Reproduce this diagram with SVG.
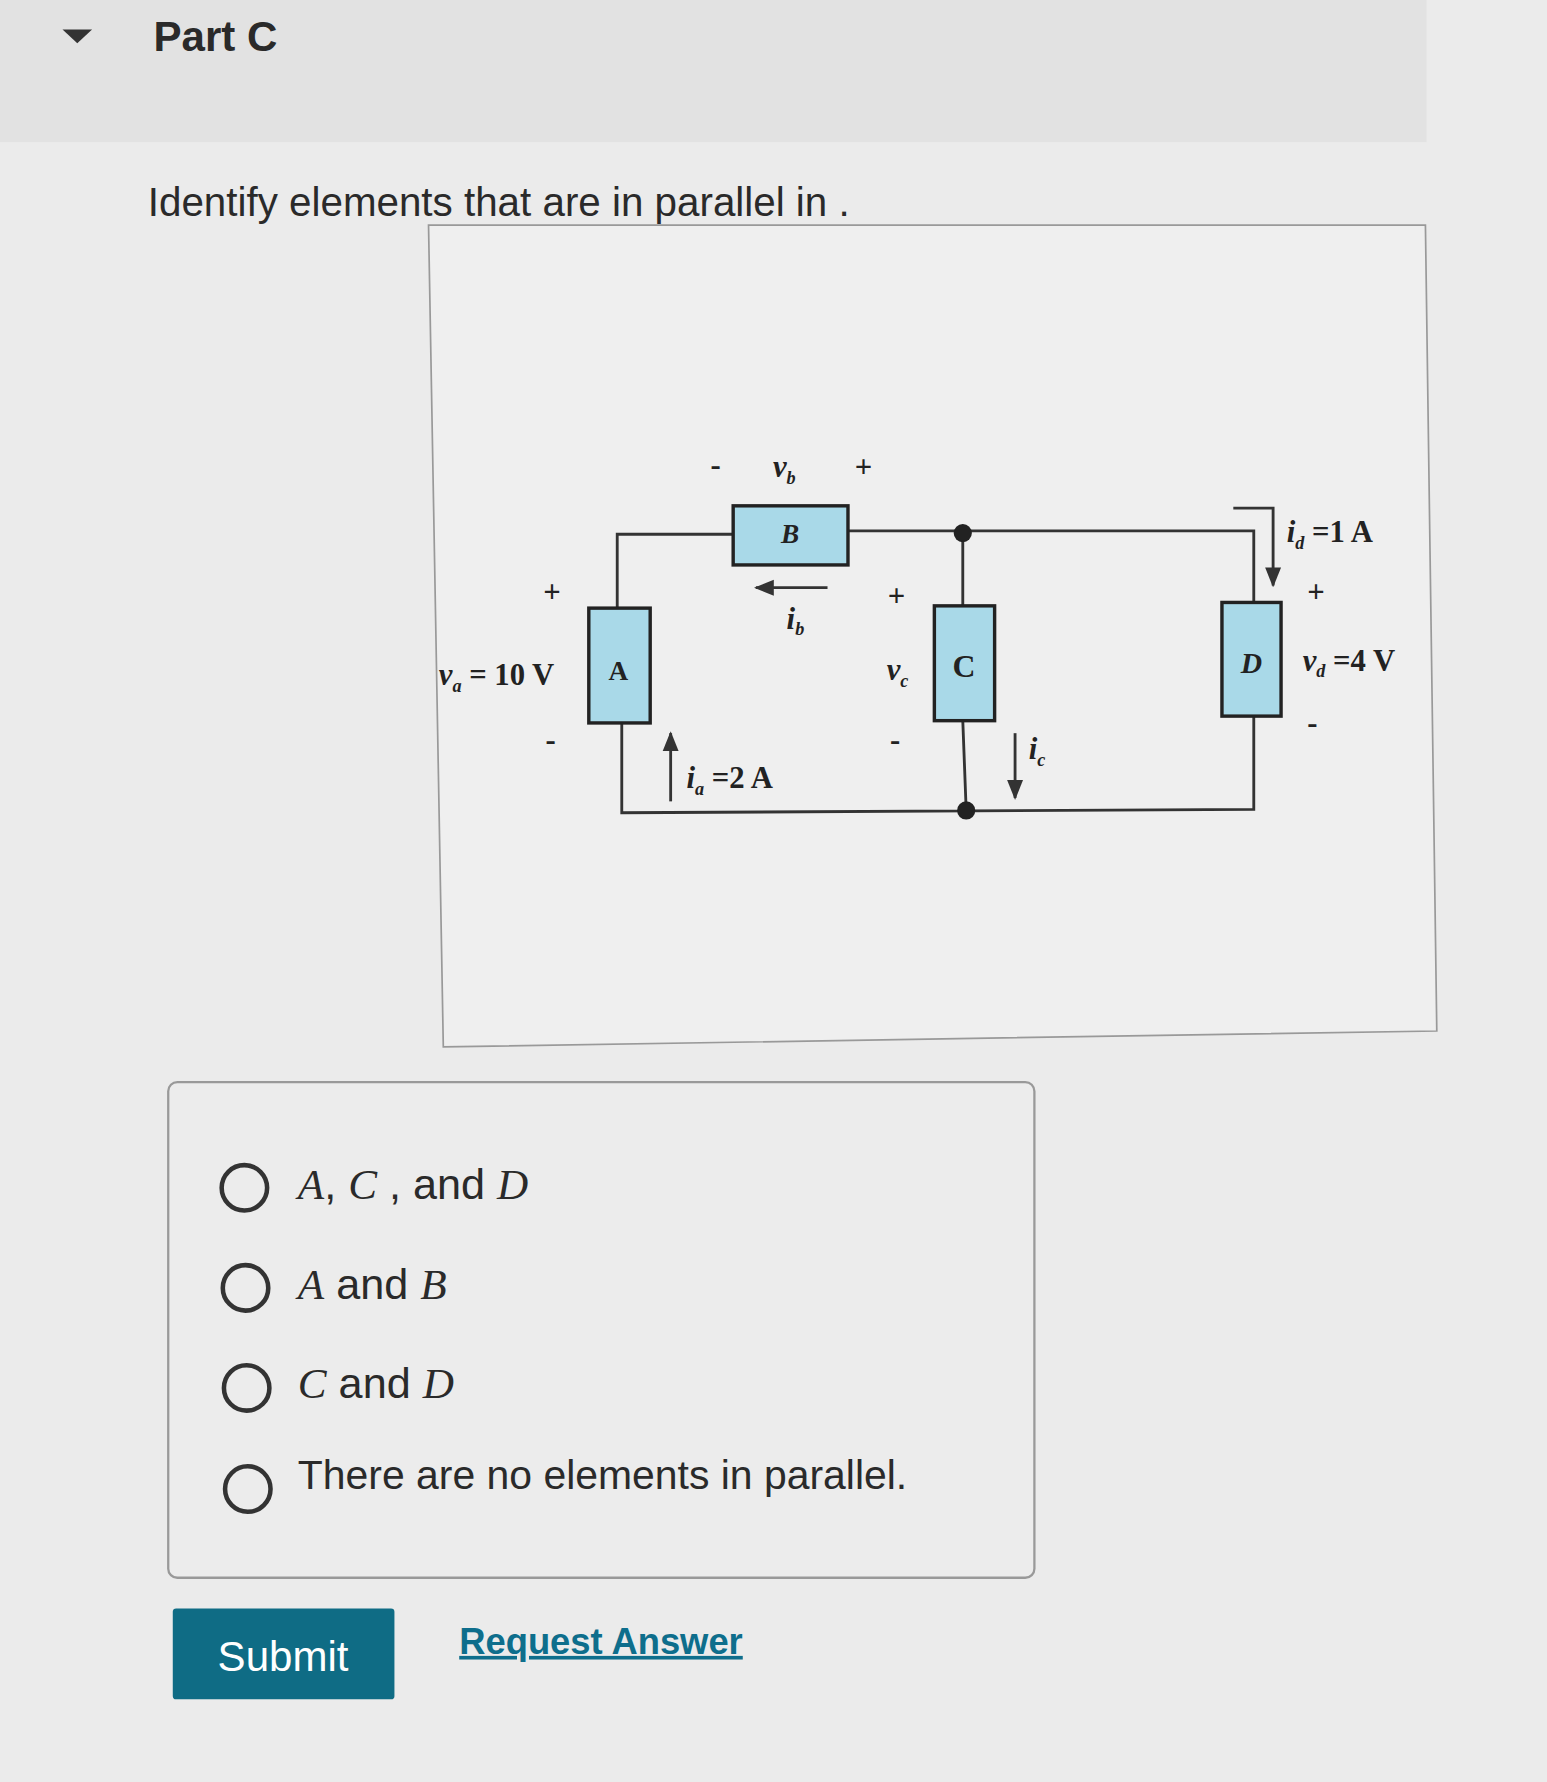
<svg xmlns="http://www.w3.org/2000/svg" width="1547" height="1782" viewBox="0 0 1547 1782">
<defs>
<style>
.s{font-family:"Liberation Sans",Arial,sans-serif;fill:#2a2a2a}
.m{font-family:"Liberation Serif","Times New Roman",serif;fill:#222;font-weight:bold}
.w{stroke:#333;stroke-width:2.5;fill:none}
.el{fill:#a9d9e8;stroke:#222;stroke-width:3}
.r{fill:none;stroke:#333;stroke-width:4}
</style>
<marker id="ah" viewBox="0 0 10 10" refX="9" refY="5" markerWidth="7" markerHeight="7" orient="auto"><path d="M0,1 L10,5 L0,9 Z" fill="#333"/></marker>
</defs>
<rect width="1547" height="1782" fill="#ebebeb"/>
<g transform="scale(1.1367)">
<rect x="0" y="0" width="1255" height="125" fill="#e2e2e2"/>
<path d="M55,26 L81,26 L68,38 Z" fill="#333"/>
<text x="135" y="45" class="s" font-size="37" font-weight="bold" fill="#333">Part C</text>
<text x="130" y="190" class="s" font-size="35.5">Identify elements that are in parallel in .</text>
<g id="frame"><path d="M377,198 L1254,198 L1264,907 L390,921 Z" fill="#efefef" stroke="#999" stroke-width="1.5"/></g>
<g id="connectors">
<path class="w" d="M543,535 L543,470 L645,470 M746,467 L1103,467 L1103,530 M1103,630 L1103,712 L547,715 L547,636 M847,467 L847,533 M847,634 L850,713"/>
<path class="w" d="M728,517 L665,517" marker-end="url(#ah)"/>
<path class="w" d="M590,705 L590,645" marker-end="url(#ah)"/>
<path class="w" d="M893,645 L893,702" marker-end="url(#ah)"/>
<path class="w" d="M1085,447 L1120,447 L1120,515" marker-end="url(#ah)"/>
<circle cx="847" cy="469" r="8" fill="#222"/>
<circle cx="850" cy="713" r="8" fill="#222"/>
</g>
<g id="A"><rect class="el" x="518" y="535" width="54" height="101"/><text x="544" y="598" class="m" font-size="24" text-anchor="middle">A</text></g>
<g id="B"><rect class="el" x="645" y="445" width="101" height="52"/><text x="695" y="478" class="m" font-size="24" text-anchor="middle" font-style="italic">B</text></g>
<g id="C"><rect class="el" x="822" y="533" width="53" height="101"/><text x="848" y="596" class="m" font-size="28" text-anchor="middle">C</text></g>
<g id="D"><rect class="el" x="1075" y="530" width="52" height="100"/><text x="1101" y="592" class="m" font-size="26" text-anchor="middle" font-style="italic">D</text></g>
<g id="labels" class="m" font-size="27">
<text x="625" y="418">-</text><text x="680" y="420" font-style="italic">v<tspan font-size="16" dy="6">b</tspan></text><text x="752" y="420">+</text>
<text x="692" y="553" font-style="italic">i<tspan font-size="16" dy="6">b</tspan></text>
<text x="478" y="530">+</text>
<text x="386" y="603" font-style="italic">v<tspan font-size="16" dy="6">a</tspan><tspan dy="-6" font-style="normal"> = 10 V</tspan></text>
<text x="480" y="660">-</text>
<text x="604" y="693" font-style="italic">i<tspan font-size="16" dy="6">a</tspan><tspan dy="-6" font-style="normal"> =2 A</tspan></text>
<text x="781" y="533">+</text>
<text x="780" y="598" font-style="italic">v<tspan font-size="16" dy="6">c</tspan></text>
<text x="783" y="660">-</text>
<text x="905" y="668" font-style="italic">i<tspan font-size="16" dy="6">c</tspan></text>
<text x="1132" y="477" font-style="italic">i<tspan font-size="16" dy="6">d</tspan><tspan dy="-6" font-style="normal"> =1 A</tspan></text>
<text x="1150" y="530">+</text>
<text x="1146" y="590" font-style="italic">v<tspan font-size="16" dy="6">d</tspan><tspan dy="-6" font-style="normal"> =4 V</tspan></text>
<text x="1150" y="645">-</text>
</g>
<g id="options">
<rect x="148" y="952" width="762" height="436" rx="8" fill="#ececec" stroke="#999" stroke-width="2"/>
<circle class="r" cx="215" cy="1045" r="20"/>
<circle class="r" cx="216" cy="1133" r="20"/>
<circle class="r" cx="217" cy="1221" r="20"/>
<circle class="r" cx="218" cy="1310" r="20"/>
<text x="262" y="1055" class="s" font-size="38"><tspan font-family="Liberation Serif" font-style="italic">A</tspan>, <tspan font-family="Liberation Serif" font-style="italic">C</tspan> , and <tspan font-family="Liberation Serif" font-style="italic">D</tspan></text>
<text x="262" y="1143" class="s" font-size="38"><tspan font-family="Liberation Serif" font-style="italic">A</tspan> and <tspan font-family="Liberation Serif" font-style="italic">B</tspan></text>
<text x="262" y="1230" class="s" font-size="38"><tspan font-family="Liberation Serif" font-style="italic">C</tspan> and <tspan font-family="Liberation Serif" font-style="italic">D</tspan></text>
<text x="262" y="1310" class="s" font-size="36">There are no elements in parallel.</text>
</g>
<g id="submit"><rect x="152" y="1415" width="195" height="80" rx="3" fill="#0f6c85"/><text x="249" y="1470" font-family="Liberation Sans,Arial,sans-serif" font-size="37" fill="#fff" text-anchor="middle">Submit</text></g>
<g id="request"><text x="404" y="1455" font-family="Liberation Sans,Arial,sans-serif" font-size="32" font-weight="bold" fill="#0e6e8c" text-decoration="underline">Request Answer</text></g>
</g>
</svg>
